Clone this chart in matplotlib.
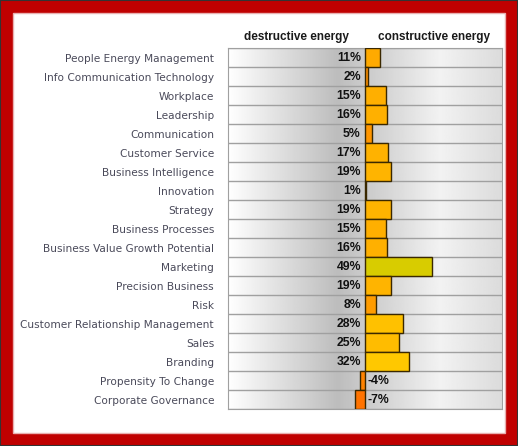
import numpy as np
import matplotlib
matplotlib.use("Agg")
import matplotlib.pyplot as plt
from matplotlib.colors import LinearSegmentedColormap, Normalize
from matplotlib.patches import Rectangle

categories = [
    "People Energy Management", "Info Communication Technology", "Workplace",
    "Leadership", "Communication", "Customer Service", "Business Intelligence",
    "Innovation", "Strategy", "Business Processes",
    "Business Value Growth Potential", "Marketing", "Precision Business", "Risk",
    "Customer Relationship Management", "Sales", "Branding",
    "Propensity To Change", "Corporate Governance",
]
values = [11, 2, 15, 16, 5, 17, 19, 1, 19, 15, 16, 49, 19, 8, 28, 25, 32, -4, -7]
headers = ["destructive energy", "constructive energy"]

W, H = 518, 446
fig = plt.figure(figsize=(W / 100, H / 100), dpi=100)

# red picture frame
fig.patches.append(Rectangle((0, 0), 1, 1, transform=fig.transFigure,
                             facecolor="#c00000", edgecolor="#333333", lw=1.5,
                             zorder=-2))
fig.patches.append(Rectangle((13 / W, 13 / H), 492 / W, 420 / H,
                             transform=fig.transFigure, facecolor="white",
                             edgecolor="#e8b0b0", lw=1, zorder=-1))

ax = fig.add_axes([228 / W, 37 / H, 274 / W, 361 / H])
n = len(categories)
y = np.arange(n)

# horizontal grey shading behind the rows
xs = np.linspace(-100, 100, 400)
shade = np.interp(xs, [-100, -20, 0, 0.01, 55, 100],
                  [1.0, 0.74, 0.80, 0.79, 0.95, 0.86])
ax.imshow(shade[None, :], extent=(-100, 100, n - 0.5, -0.5), aspect="auto",
          cmap="gray", vmin=0, vmax=1, zorder=0)

cmap = LinearSegmentedColormap.from_list("energy", [
    (0.00, "#ff6400"), (0.10, "#ff8400"), (0.30, "#ff9c00"),
    (0.35, "#ffaa00"), (0.48, "#ffb400"), (0.63, "#ffc000"),
    (0.70, "#ffc800"), (1.00, "#d6cc00")])
norm = Normalize(-10, 50)

ax.barh(y, values, height=1.0, color=cmap(norm(np.array(values))),
        edgecolor="#3a2800", linewidth=1, zorder=3)

for yi in np.arange(n + 1) - 0.5:
    ax.axhline(yi, color="#a0a0a0", lw=1, zorder=2)

for yi, v in zip(y, values):
    if v >= 0:
        ax.text(-3, yi, f"{v}%", ha="right", va="center", fontsize=8.8,
                fontweight="bold", family="Liberation Sans", color="#111111",
                zorder=4)
    else:
        ax.text(2, yi, f"{v}%", ha="left", va="center", fontsize=8.8,
                fontweight="bold", family="Liberation Sans", color="#111111",
                zorder=4)

ax.set_xlim(-100, 100)
ax.set_ylim(n - 0.5, -0.5)
ax.set_yticks(y)
ax.set_yticklabels(categories, fontsize=7.6, color="#4a4a5a")
ax.tick_params(axis="y", length=0, pad=10)
ax.set_xticks([])
for s in ax.spines.values():
    s.set_color("#a0a0a0")

ax.text(-50, -0.75, headers[0], ha="center", va="bottom", fontsize=8.5,
        fontweight="bold", family="Liberation Sans", color="#1a1a1a")
ax.text(50, -0.75, headers[1], ha="center", va="bottom", fontsize=8.5,
        fontweight="bold", family="Liberation Sans", color="#1a1a1a")

fig.savefig("out.png", dpi=100)
